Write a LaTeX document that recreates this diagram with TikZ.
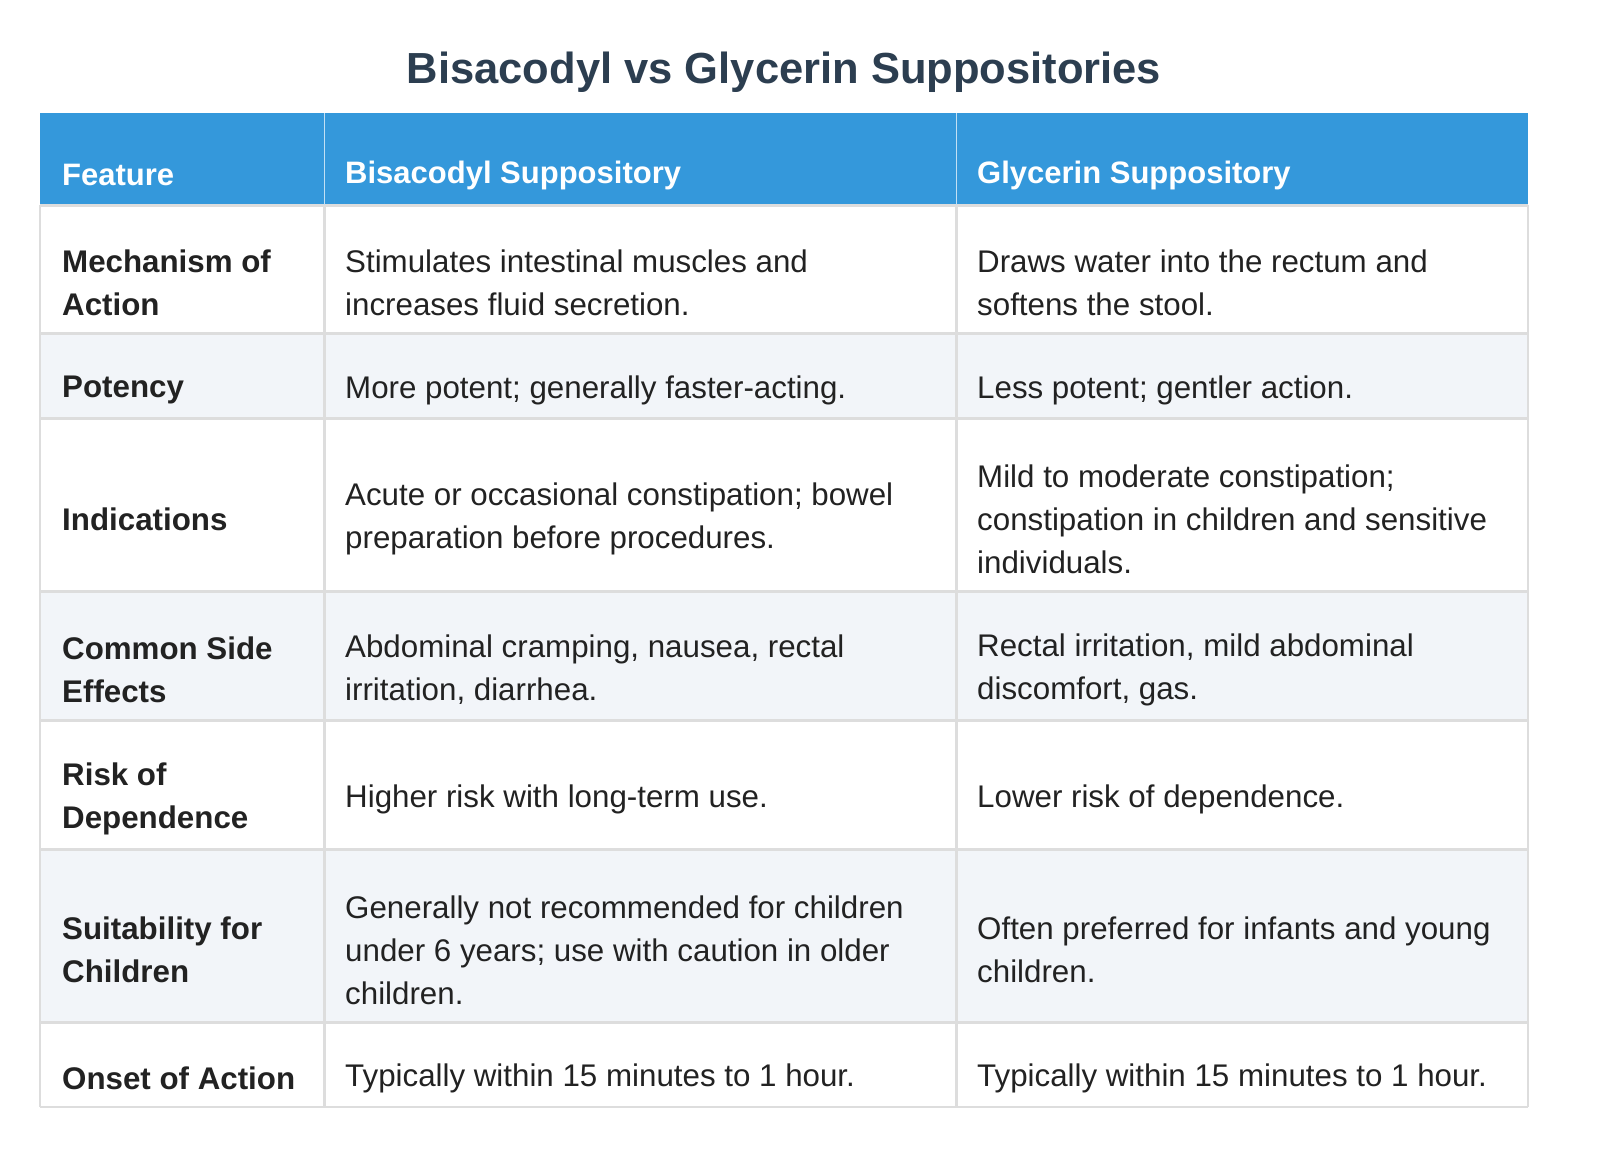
\documentclass[tikz,border=0pt]{standalone}
\usepackage{fontspec}
\setmainfont{Liberation Sans}
\definecolor{hdr}{HTML}{3498DB}
\definecolor{ttl}{HTML}{2C3E50}
\definecolor{alt}{HTML}{F2F5F9}
\definecolor{grid}{HTML}{DDDDDD}
\definecolor{txt}{HTML}{222222}
\begin{document}
\begin{tikzpicture}[x=1pt,y=-1pt,
  cell/.style={anchor=west,align=left,inner sep=0pt,text=txt,font=\fontsize{31.3}{43}\selectfont},
  feat/.style={cell,font=\fontsize{31.3}{43}\selectfont\bfseries},
  head/.style={anchor=west,inner sep=0pt,text=white,font=\fontsize{31}{36}\selectfont\bfseries}]
\useasboundingbox (0,0) rectangle (1600,1172);
\fill[white] (0,0) rectangle (1600,1172);
\node[font=\fontsize{43.5}{52}\selectfont\bfseries,text=ttl] (title) at (784,72) {Bisacodyl vs Glycerin Suppositories};
\fill[hdr] (40,113) rectangle (1528,205);
\foreach \a/\b in {333/418,591/720,849/1022} \fill[alt] (40,\a) rectangle (1528,\b);
\foreach \y in {205,333,418,591,720,849,1022} \draw[grid,line width=3] (40,\y) -- (1528,\y);
\draw[grid,line width=2] (40,1107) -- (1528,1107) (40,205) -- (40,1107) (1528,205) -- (1528,1107);
\draw[grid,line width=3] (324,205) -- (324,1107) (956,205) -- (956,1107);
\draw[white!70!hdr,line width=1] (324,113) -- (324,205) (956,113) -- (956,205);
\node[head] (h1) at (62,175) {Feature};
\node[head] (h2) at (345,175) {Bisacodyl Suppository};
\node[head] (h3) at (977,175) {Glycerin Suppository};
\foreach \ym/\f/\b/\g [count=\i] in {
 283/{Mechanism of\\Action}/{Stimulates intestinal muscles and\\increases fluid secretion.}/{Draws water into the rectum and\\softens the stool.},
 390/{Potency}/{More potent; generally faster-acting.}/{Less potent; gentler action.},
 519/{Indications}/{Acute or occasional constipation; bowel\\preparation before procedures.}/{Mild to moderate constipation;\\constipation in children and sensitive\\individuals.},
 670/{Common Side\\Effects}/{Abdominal cramping, nausea, rectal\\irritation, diarrhea.}/{Rectal irritation, mild abdominal\\discomfort, gas.},
 799/{Risk of\\Dependence}/{Higher risk with long-term use.}/{Lower risk of dependence.},
 950/{Suitability for\\Children}/{Generally not recommended for children\\under 6 years; use with caution in older\\children.}/{Often preferred for infants and young\\children.},
 1078/{Onset of Action}/{Typically within 15 minutes to 1 hour.}/{Typically within 15 minutes to 1 hour.}}{
 \node[feat] (f\i) at (62,\ym) {\f};
 \node[cell] (b\i) at (345,\ym) {\b};
 \node[cell] (g\i) at (977,\ym) {\g};
}
\end{tikzpicture}
\end{document}
